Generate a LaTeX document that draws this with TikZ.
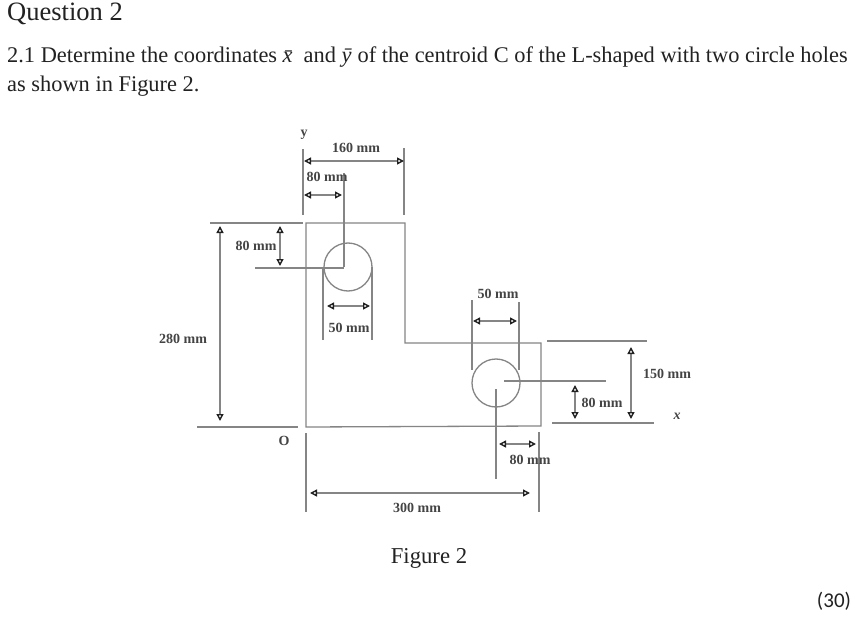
\documentclass[tikz,border=0pt]{standalone}
\usepackage{fontspec}
\setmainfont{Liberation Serif}
\newfontfamily\calfont{Carlito}
\usetikzlibrary{arrows.meta}
\definecolor{ink}{HTML}{222222}
\definecolor{lbl}{HTML}{444444}
\definecolor{linegray}{HTML}{858585}
\tikzset{
 x=1pt,y=-1pt,
 dimtip/.tip={Triangle[open,length=7pt,width=7pt,line width=1.4pt,color=ink,fill=white]},
 shapeln/.style={draw=linegray,line width=1.3pt},
 extln/.style={draw=linegray,line width=1.2pt},
 dimln/.style={draw=linegray,line width=1.2pt,dimtip-dimtip},
 head/.style={inner sep=0pt,anchor=base west,font=\fontsize{22.4}{26}\selectfont,text=ink},
 dimlbl/.style={inner sep=0pt,font=\fontsize{14}{16}\selectfont\bfseries,text=lbl},
}
\begin{document}
\begin{tikzpicture}
\useasboundingbox[fill=white] (0,0) rectangle (855,618);
% heading
\node[head,font=\fontsize{26.5}{30}\selectfont] (q) at (7,21) {Question 2};
\node[head] (t1) at (7,63) {2.1 Determine the coordinates \textit{\=x} and \textit{ȳ} of the centroid C of the L-shaped with two circle holes};
\node[head] (t2) at (7,92) {as shown in Figure 2.};
% outline
\draw[shapeln] (306,223) -- (405,223) -- (405,343) -- (541,343) -- (541,426) -- (306,427) -- cycle;
\draw[shapeln] (348,267) circle (24);
\draw[shapeln] (496,383) circle (24);
% extension lines top
\draw[extln] (303,149) -- (303,215);
\draw[extln] (404,148) -- (404,215);
\draw[extln] (344,173) -- (344,267);
\draw[extln] (255,268) -- (344,268);
\draw[extln] (210,223) -- (303,223);
\draw[extln] (323,267) -- (323,340);
\draw[extln] (372,267) -- (372,340);
% extension lines bottom and right
\draw[extln] (197,427) -- (298,427);
\draw[extln] (306,433) -- (306,512);
\draw[extln] (539,432) -- (539,512);
\draw[extln] (472,300) -- (472,370);
\draw[extln] (519,302) -- (519,370);
\draw[extln] (504,381) -- (606,381);
\draw[extln] (496,389) -- (496,479);
\draw[extln] (547,341) -- (647,341);
\draw[extln] (552,423) -- (654,423);
% dimensions
\draw[dimln] (304,161) -- (404,161);
\draw[dimln] (304,195) -- (342,195);
\draw[dimln] (220,226) -- (220,421);
\draw[dimln] (280,226) -- (280,266);
\draw[dimln] (327,306) -- (370,306);
\draw[dimln] (473,321) -- (517,321);
\draw[dimln] (631,347) -- (631,419);
\draw[dimln] (575,385) -- (575,419);
\draw[dimln] (499,444) -- (536,444);
\draw[dimln] (310,493) -- (530,493);
% labels
\node[dimlbl] (ly) at (304,135) {y};
\node[dimlbl] (l160) at (356,148) {160 mm};
\node[dimlbl] (l80a) at (327,177) {80 mm};
\node[dimlbl] (l80b) at (256,246) {80 mm};
\node[dimlbl] (l50a) at (349,328) {50 mm};
\node[dimlbl] (l280) at (183,339) {280 mm};
\node[dimlbl] (l50b) at (498,294) {50 mm};
\node[dimlbl] (l150) at (667,374) {150 mm};
\node[dimlbl] (l80c) at (602,403) {80 mm};
\node[dimlbl,font=\fontsize{14}{16}\selectfont\bfseries\itshape] (lx) at (677,416) {x};
\node[dimlbl] (l80d) at (530,460) {80 mm};
\node[dimlbl] (l300) at (417,508) {300 mm};
\node[dimlbl,font=\fontsize{14}{16}\selectfont\bfseries] (lo) at (284,441) {O};
\node[inner sep=0pt,font=\fontsize{22.7}{26}\selectfont,text=ink] (fig) at (429,558) {Figure 2};
\node[inner sep=0pt,font=\calfont\fontsize{21}{24}\selectfont,text=ink] (m) at (834,601) {(30)};
\end{tikzpicture}
\end{document}
